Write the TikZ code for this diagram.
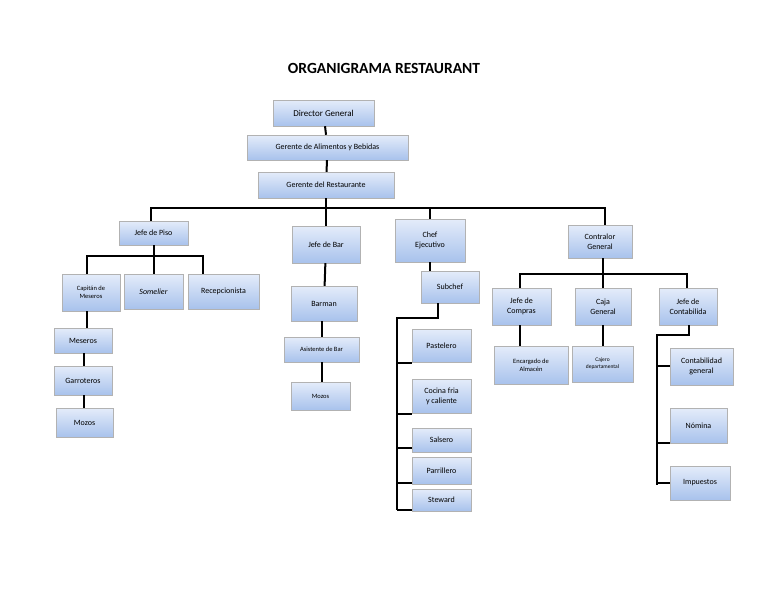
\documentclass[tikz,border=0pt]{standalone}
\usepackage{fontspec}
\setmainfont{Carlito}
\usetikzlibrary{shadows}
\definecolor{bxtop}{RGB}{228,236,250}
\definecolor{bxbot}{RGB}{168,194,236}
\begin{document}
\begin{tikzpicture}[x=1pt,y=-1pt,
  bx/.style={draw=gray!60,top color=bxtop,bottom color=bxbot,
    drop shadow={shadow xshift=1pt,shadow yshift=-1.2pt,opacity=0.35},
    font=\fontsize{8}{10}\selectfont,align=center,inner sep=0pt},
  sm/.style={font=\fontsize{6.5}{8}\selectfont},
  ln/.style={line width=2pt}]
\useasboundingbox (0,0) rectangle (768,594);
\node[font=\bfseries\fontsize{15.5}{18}\selectfont] (title) at (384,68) {ORGANIGRAMA RESTAURANT};
\newcommand{\bx}[7][]{\node[bx,#1,minimum width=#5-#3,minimum height=#6-#4] (#2) at ({(#3+#5)/2},{(#4+#6)/2}) {#7};}
\bx[font=\fontsize{9}{11}\selectfont]{dg}{273}{100}{374}{126}{Director General}
\bx{gab}{247}{135}{408}{160}{Gerente de Alimentos y Bebidas}
\bx{gr}{258}{172}{394}{198}{Gerente del Restaurante}
\bx{jp}{119}{221}{188}{245}{Jefe de Piso}
\bx{jb}{292}{226}{360}{263}{Jefe de Bar}
\bx{ce}{395}{219}{465}{262}{Chef\\Ejecutivo}
\bx{cg}{568}{225}{632}{258}{Contralor\\General}
\bx[sm]{cm}{62}{274}{120}{311}{Capitán de\\Meseros}
\bx{so}{124}{274}{183}{309}{\textit{Somelier}}
\bx{re}{188}{274}{259}{309}{Recepcionista}
\bx{me}{54}{328}{112}{353}{Meseros}
\bx{ga}{54}{366}{112}{395}{Garroteros}
\bx{mz}{56}{408}{113}{437}{Mozos}
\bx{ba}{291}{286}{357}{321}{Barman}
\bx[sm]{ab}{284}{337}{359}{362}{Asistente de Bar}
\bx[sm]{mz2}{291}{382}{350}{410}{Mozos}
\bx{sc}{421}{271}{479}{303}{Subchef}
\bx{pa}{412}{329}{471}{362}{Pastelero}
\bx{co}{412}{379}{471}{413}{Cocina fria\\y caliente}
\bx{sa}{412}{428}{471}{452}{Salsero}
\bx{pr}{412}{457}{471}{484}{Parrillero}
\bx{st}{412}{489}{471}{511}{Steward}
\bx{jc}{492}{288}{551}{325}{Jefe de\\Compras}
\bx{cj}{575}{288}{631}{325}{Caja\\General}
\bx{jo}{659}{288}{717}{325}{Jefe de\\Contabilida}
\bx[sm]{ea}{494}{346}{568}{384}{Encargado de\\Almacén}
\bx[font=\fontsize{5.5}{7}\selectfont]{ca}{572}{346}{633}{382}{Cajero\\departamental}
\bx{cb}{670}{348}{733}{385}{Contabilidad\\general}
\bx{no}{670}{408}{727}{443}{Nómina}
\bx{im}{670}{466}{730}{500}{Impuestos}
\draw[ln] (dg) -- (gab); \draw[ln] (gab) -- (gr);
\draw[ln] (gr.south) -- (326,208);
\draw[ln] (jp.north -| 151,0) |- (605,208) -- (cg.north -| 605,0);
\draw[ln] (326,208) -- (jb.north);
\draw[ln] (430,208) -- (ce.north -| 430,0);
\draw[ln] (jp.south -| 154,0) -- (154,256);
\draw[ln] (cm.north -| 87,0) |- (203,256) -- (re.north -| 203,0);
\draw[ln] (154,256) -- (so.north -| 154,0);
\draw[ln] (cm.south -| 87,0) -- (me.north -| 87,0);
\draw[ln] (me.south -| 84,0) -- (ga.north -| 84,0);
\draw[ln] (ga.south -| 84,0) -- (mz.north -| 84,0);
\draw[ln] (jb) -- (ba); \draw[ln] (ba.south -| 322,0) -- (ab.north -| 322,0);
\draw[ln] (ab.south -| 322,0) -- (mz2.north -| 322,0);
\draw[ln] (ce.south -| 430,0) -- (sc.north -| 430,0);
\coordinate (sb) at (397,318);
\draw[ln] (sc.south -| 438,0) |- (sb) -- (397,510);
\foreach \n/\y in {pa/363,co/414,sa/448,pr/483,st/510} \draw[ln] (397,\y) -- (\n.west |- 0,\y);
\draw[ln] (cg.south -| 603,0) -- (603,274);
\draw[ln] (jc.north -| 520,0) |- (687,274) -- (jo.north -| 687,0);
\draw[ln] (603,274) -- (cj.north -| 603,0);
\draw[ln] (jc.south -| 520,0) -- (ea.north -| 520,0);
\draw[ln] (cj.south -| 603,0) -- (ca.north -| 603,0);
\draw[ln] (jo.south -| 689,0) |- (657,335) -- (657,485);
\foreach \n/\y in {cb/366,no/443,im/483} \draw[ln] (657,\y) -- (\n.west |- 0,\y);
\end{tikzpicture}
\end{document}
